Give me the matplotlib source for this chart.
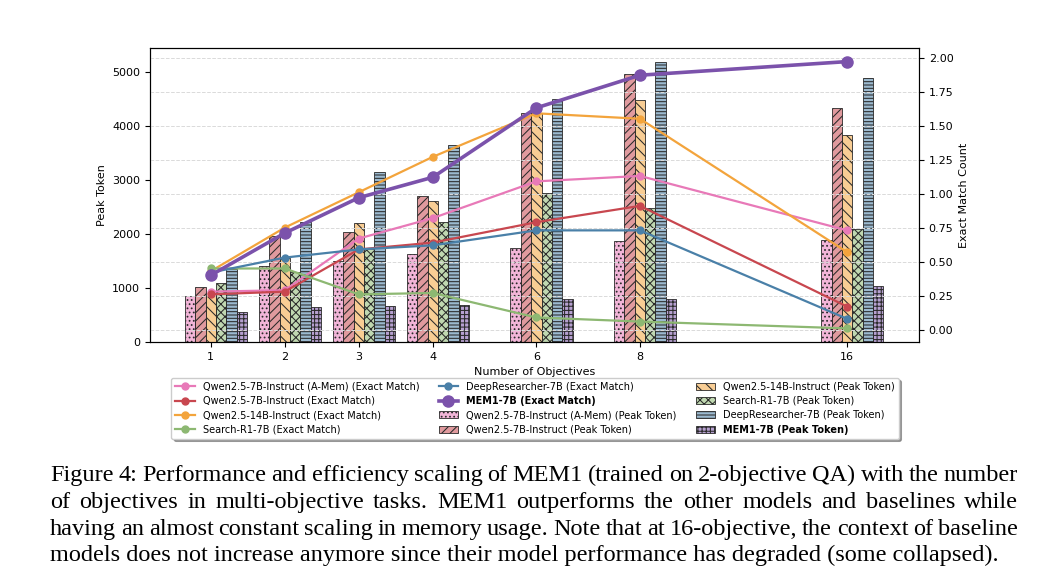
import numpy as np
import matplotlib
matplotlib.use("Agg")
import matplotlib.pyplot as plt
from matplotlib.colors import to_rgba

# number of objectives (tick labels) and where each group sits on the x axis
objectives = ["1", "2", "3", "4", "6", "8", "16"]
x_pos = [0, 1, 2, 3, 4.4, 5.8, 8.6]

# exact match count (right axis)
em_amem = [0.28, 0.29, 0.67, 0.82, 1.09, 1.13, 0.73]
em_qwen7 = [0.26, 0.28, 0.59, 0.64, 0.79, 0.91, 0.17]
em_qwen14 = [0.43, 0.75, 1.01, 1.27, 1.59, 1.55, 0.57]
em_search = [0.45, 0.45, 0.26, 0.27, 0.09, 0.06, 0.01]
em_deep = [0.42, 0.53, 0.59, 0.62, 0.73, 0.73, 0.08]
em_mem1 = [0.40, 0.71, 0.97, 1.12, 1.63, 1.87, 1.97]

# peak token (left axis)
pt_amem = [855, 1415, 1505, 1630, 1745, 1865, 1895]
pt_qwen7 = [1020, 1970, 2030, 2710, 4245, 4970, 4335]
pt_qwen14 = [850, 1560, 2210, 2615, 4240, 4480, 3840]
pt_search = [1100, 1300, 1720, 2230, 2770, 2480, 2100]
pt_deep = [1350, 2220, 3150, 3650, 4495, 5190, 4890]
pt_mem1 = [565, 655, 660, 690, 800, 800, 1045]

models = ["Qwen2.5-7B-Instruct (A-Mem)", "Qwen2.5-7B-Instruct", "Qwen2.5-14B-Instruct",
          "Search-R1-7B", "DeepResearcher-7B", "MEM1-7B"]
colors = ["#E879B8", "#C8474F", "#F3A43C", "#8DB872", "#4A80A8", "#7B52AB"]
hatches = ["....", "////", "\\\\\\", "xxxx", "-----", "++++"]

caption = [
    "Figure 4: Performance and efficiency scaling of MEM1 (trained on 2-objective QA) with the number",
    "of objectives in multi-objective tasks.  MEM1 outperforms the other models and baselines while",
    "having an almost constant scaling in memory usage. Note that at 16-objective, the context of baseline",
    "models does not increase anymore since their model performance has degraded (some collapsed).",
]

plt.rcParams["hatch.linewidth"] = 0.75

fig = plt.figure(figsize=(10.47, 5.83), dpi=100)
ax = fig.add_axes([0.1433, 0.4134, 0.7344, 0.5043])
ax2 = ax.twinx()

x = np.array(x_pos)
width = 0.14
peak = [pt_amem, pt_qwen7, pt_qwen14, pt_search, pt_deep, pt_mem1]
for i, vals in enumerate(peak):
    ax.bar(x + (i - 2) * width, vals, width,
           facecolor=to_rgba(colors[i], 0.55), edgecolor="#2a2a2a",
           linewidth=0.6, hatch=hatches[i],
           label=f"{models[i]} (Peak Token)", zorder=2)

exact = [em_amem, em_qwen7, em_qwen14, em_search, em_deep, em_mem1]
line_handles = []
for i, vals in enumerate(exact):
    big = i == 5
    h, = ax2.plot(x, vals, color=colors[i], marker="o",
                  lw=2.6 if big else 1.6, ms=8 if big else 5,
                  label=f"{models[i]} (Exact Match)", zorder=5 if big else 3)
    line_handles.append(h)

ax.set_xlim(-0.82, 9.57)
ax.set_ylim(0, 5450)
ax2.set_ylim(-0.09, 2.07)
ax.set_xticks(x)
ax.set_xticklabels(objectives)
ax.set_yticks([0, 1000, 2000, 3000, 4000, 5000])
ax2.set_yticks(np.arange(0, 2.01, 0.25))
ax2.set_yticklabels([f"{v:.2f}" for v in np.arange(0, 2.01, 0.25)])
ax.tick_params(labelsize=8)
ax2.tick_params(labelsize=8)
ax2.grid(axis="y", linestyle="--", color="#dadada", linewidth=0.7, zorder=0)

ax.set_xlabel("Number of Objectives", fontsize=8)
ax.set_ylabel("Peak Token", fontsize=8)
ax2.set_ylabel("Exact Match Count", fontsize=8)

bar_handles, _ = ax.get_legend_handles_labels()
handles = line_handles + bar_handles
labels = [h.get_label() for h in handles]
leg = fig.legend(handles, labels, ncol=3, loc="center", bbox_to_anchor=(0.511, 0.30),
                 fontsize=7.0, shadow=True, fancybox=True, framealpha=1,
                 edgecolor="#cccccc", labelspacing=0.45)
for t in leg.get_texts():
    if t.get_text().startswith("MEM1"):
        t.set_fontweight("bold")

# caption below the chart, justified like the paper text
size = 17.5
x0, x1 = 50 / 1047, 1018 / 1047
y0, dy = 1 - 481 / 583, 26.8 / 583
renderer = fig.canvas.get_renderer()
for k, line in enumerate(caption):
    y = y0 - k * dy
    if k == len(caption) - 1:
        fig.text(x0, y, line, family="Liberation Serif", fontsize=size, va="baseline")
        continue
    words = line.split()
    texts = [fig.text(0, y, w, family="Liberation Serif", fontsize=size, va="baseline")
             for w in words]
    widths = [t.get_window_extent(renderer).width / fig.bbox.width for t in texts]
    gap = (x1 - x0 - sum(widths)) / (len(words) - 1)
    pos = x0
    for t, w in zip(texts, widths):
        t.set_x(pos)
        pos += w + gap

fig.savefig("out.png", dpi=100)
